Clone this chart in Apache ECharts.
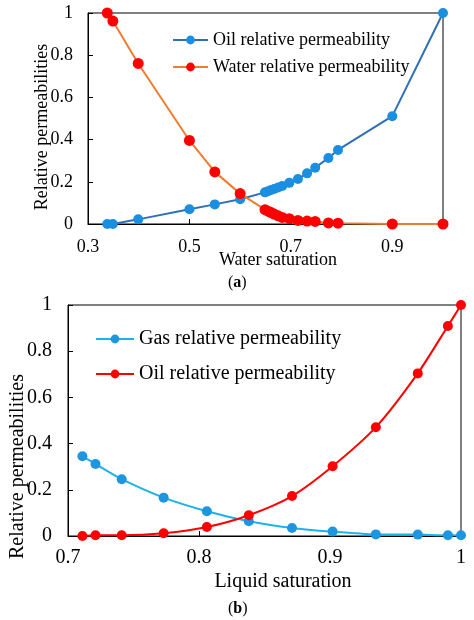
<!DOCTYPE html>
<html>
<head>
<meta charset="utf-8">
<script src="https://cdn.jsdelivr.net/npm/echarts@6/dist/echarts.min.js"></script>
<style>
html,body{margin:0;padding:0;background:#fff;}
#c{width:474px;height:620px;}
</style>
</head>
<body>
<div id="c"></div>
<script>
// ---- Chart (a) ----
const waterSat = [0.338, 0.349, 0.399, 0.5, 0.55, 0.6, 0.649, 0.655, 0.661, 0.667, 0.675, 0.683, 0.697, 0.714, 0.732, 0.748, 0.774, 0.793, 0.9, 1.0];
const oilRelPermA = [0, 0, 0.022, 0.070, 0.093, 0.117, 0.150, 0.155, 0.161, 0.166, 0.173, 0.180, 0.195, 0.213, 0.240, 0.267, 0.313, 0.351, 0.511, 1.0];
const waterRelPerm = [1.0, 0.962, 0.761, 0.396, 0.247, 0.144, 0.068, 0.061, 0.054, 0.047, 0.039, 0.031, 0.025, 0.017, 0.014, 0.012, 0.005, 0.004, 0, 0];
const xTicksA = [0.3, 0.5, 0.7, 0.9];

// ---- Chart (b) ----
const liquidSat = [0.711, 0.721, 0.741, 0.773, 0.806, 0.838, 0.871, 0.902, 0.935, 0.967, 0.99, 1.0];
const gasRelPerm = [0.345, 0.312, 0.246, 0.166, 0.107, 0.064, 0.035, 0.019, 0.007, 0.006, 0.003, 0.003];
const oilRelPermB = [0, 0.003, 0.003, 0.012, 0.039, 0.090, 0.173, 0.302, 0.471, 0.704, 0.909, 1.0];

const FONT = 'Liberation Serif';
const zip = (xs, ys) => xs.map((x, i) => [x, ys[i]]);

const chart = echarts.init(document.getElementById('c'));
const textA = {fontFamily: FONT, fontSize: 18, color: '#000'};
const textB = {fontFamily: FONT, fontSize: 20, color: '#000'};

function axisCommon() {
  return {
    axisLine: {show: true, lineStyle: {color: '#000', width: 1}},
    axisTick: {show: true, inside: true, length: 5, lineStyle: {color: '#000'}},
    splitLine: {show: false},
    nameMoveOverlap: false
  };
}

chart.setOption({
  animation: false,
  backgroundColor: '#fff',
  textStyle: {fontFamily: FONT},
  grid: [
    {left: 88, right: 31, top: 13, bottom: 396, show: true, borderColor: '#000', borderWidth: 1},
    {left: 67, right: 13, top: 305, bottom: 84, show: true, borderColor: '#000', borderWidth: 1}
  ],
  legend: [
    {
      orient: 'vertical', left: 172, top: 31, padding: 0, itemWidth: 35, itemHeight: 11, itemGap: 9,
      textStyle: Object.assign({}, textA),
      data: ['Oil relative permeability', 'Water relative permeability']
    },
    {
      orient: 'vertical', left: 95, top: 329, padding: 0, itemWidth: 38, itemHeight: 11, itemGap: 15,
      textStyle: Object.assign({}, textB),
      data: ['Gas relative permeability', 'Oil relative permeability ']
    }
  ],
  xAxis: [
    Object.assign(axisCommon(), {
      gridIndex: 0, type: 'value', min: 0.3, max: 1,
      name: 'Water saturation', nameLocation: 'middle', nameGap: 27,
      nameTextStyle: Object.assign({}, textA, {padding: [0, 0, 0, 25]}),
      axisLabel: Object.assign({}, textA, {margin: 14, customValues: xTicksA}),
      axisTick: {show: true, inside: true, length: 5, lineStyle: {color: '#000'}, customValues: xTicksA}
    }),
    Object.assign(axisCommon(), {
      gridIndex: 1, type: 'value', min: 0.7, max: 1, interval: 0.1,
      name: 'Liquid saturation', nameLocation: 'middle', nameGap: 36,
      nameTextStyle: Object.assign({}, textB, {padding: [0, 0, 0, 37]}),
      axisLabel: Object.assign({}, textB, {margin: 12})
    })
  ],
  yAxis: [
    Object.assign(axisCommon(), {
      gridIndex: 0, type: 'value', min: 0, max: 1, interval: 0.2,
      name: 'Relative permeabilities', nameLocation: 'middle', nameGap: 37,
      nameTextStyle: Object.assign({}, textA, {padding: [0, 17, 0, 0]}),
      axisLabel: Object.assign({}, textA, {margin: 15})
    }),
    Object.assign(axisCommon(), {
      gridIndex: 1, type: 'value', min: 0, max: 1, interval: 0.2,
      name: 'Relative permeabilities', nameLocation: 'middle', nameGap: 40,
      nameTextStyle: Object.assign({}, textB, {padding: [0, 92, 0, 0]}),
      axisLabel: Object.assign({}, textB, {margin: 16})
    })
  ],
  graphic: [
    {type: 'text', left: 228, top: 275, style: {text: '({b|a})', font: '16px "Liberation Serif"', fill: '#000',
      rich: {b: {fontWeight: 'bold', fontSize: 16, fontFamily: FONT}}}},
    {type: 'text', left: 228, top: 601, style: {text: '({b|b})', font: '16px "Liberation Serif"', fill: '#000',
      rich: {b: {fontWeight: 'bold', fontSize: 16, fontFamily: FONT}}}}
  ],
  series: [
    {
      name: 'Oil relative permeability', type: 'line', xAxisIndex: 0, yAxisIndex: 0,
      data: zip(waterSat, oilRelPermA), symbol: 'circle', symbolSize: 10, clip: false,
      lineStyle: {color: '#2E6FB8', width: 2}, itemStyle: {color: '#1A8EE0'}, z: 3
    },
    {
      name: 'Water relative permeability', type: 'line', xAxisIndex: 0, yAxisIndex: 0,
      data: zip(waterSat, waterRelPerm), symbol: 'circle', symbolSize: 11, clip: false,
      lineStyle: {color: '#ED7D31', width: 2}, itemStyle: {color: '#FF0000'}, z: 4
    },
    {
      name: 'Gas relative permeability', type: 'line', xAxisIndex: 1, yAxisIndex: 1,
      data: zip(liquidSat, gasRelPerm), symbol: 'circle', symbolSize: 10, clip: false, smooth: 0.25,
      lineStyle: {color: '#1CB2EC', width: 2}, itemStyle: {color: '#1E96DF'}, z: 3
    },
    {
      name: 'Oil relative permeability ', type: 'line', xAxisIndex: 1, yAxisIndex: 1,
      data: zip(liquidSat, oilRelPermB), symbol: 'circle', symbolSize: 10, clip: false, smooth: 0.25,
      lineStyle: {color: '#FF0000', width: 2}, itemStyle: {color: '#FF0000'}, z: 4
    }
  ]
});
</script>
</body>
</html>
